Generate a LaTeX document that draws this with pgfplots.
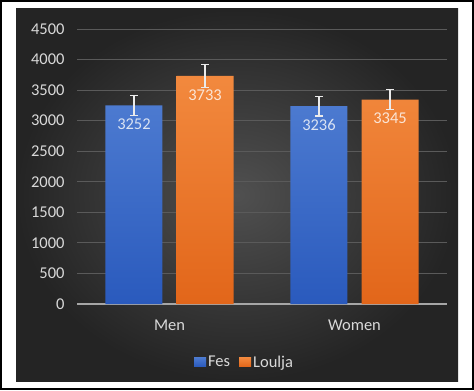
\documentclass[border=0pt]{standalone}
\usepackage{fontspec}
\setmainfont{Carlito}
\usepackage{pgfplots}
\pgfplotsset{compat=1.18}
\definecolor{bgIn}{HTML}{505050}
\definecolor{bgOut}{HTML}{242424}
\definecolor{blueT}{HTML}{4C7AD0}
\definecolor{blueB}{HTML}{2A5ABD}
\definecolor{orT}{HTML}{F2893E}
\definecolor{orB}{HTML}{E2661A}
\definecolor{tickc}{HTML}{D9D9D9}
\definecolor{gridc}{HTML}{5A5A5A}
\definecolor{lblB}{HTML}{DAE3F3}
\definecolor{lblO}{HTML}{FBE5D6}
\begin{document}
\begin{tikzpicture}[x=1bp,y=1bp]
\path[use as bounding box] (0,0) rectangle (474,390);
\fill[white] (0,0) rectangle (474,390);
\draw[black, line width=1.5bp] (1.2,1.2) rectangle (472.8,388.8);
\shade[inner color=bgIn, outer color=bgOut] (16,9) rectangle (458,381);
\begin{axis}[
  at={(77bp,86bp)}, anchor=south west,
  scale only axis, width=370bp, height=275bp,
  xmin=-0.5, xmax=1.5, ymin=0, ymax=4500,
  xtick={0,1}, xticklabels={Men,Women},
  ytick={0,500,...,4500},
  major tick length=0pt,
  axis x line=bottom, axis y line=left,
  x axis line style={color=gray!70, line width=1.2bp, -},
  y axis line style={draw=none},
  ymajorgrids, grid style={color=gridc, line width=0.8bp},
  /pgf/number format/assume math mode=true,
  /pgf/number format/1000 sep={},
  yticklabel style={font=\fontsize{16.5bp}{19bp}\selectfont, text=tickc, xshift=-9bp},
  xticklabel style={font=\fontsize{16.5bp}{19bp}\selectfont, text=tickc, anchor=center, yshift=-21bp},
  legend style={at={(axis description cs:0.453,-0.211)}, anchor=center, draw=none, fill=none,
    text=tickc, font=\fontsize{16.5bp}{19bp}\selectfont, legend columns=2,
    /tikz/every even column/.append style={column sep=7bp}},
  legend image code/.code={\path (0bp,-4.5bp) rectangle (12bp,4.5bp);\fill[#1] (0bp,-4.5bp) rectangle (9bp,4.5bp);},
  nodes near coords,
  every node near coord/.append style={anchor=center, yshift=-19bp, font=\fontsize{16.5bp}{19bp}\selectfont},
  error bars/error bar style={color=white!92!black, line width=1.2bp},
  error bars/error mark options={rotate=90, mark size=3.7bp, line width=1.2bp, color=white!92!black},
]
\addplot[ybar, bar width=0.308, bar shift=0, draw=none, top color=blueT, bottom color=blueB,
  every node near coord/.append style={text=lblB},
  error bars/.cd, y dir=both, y explicit]
  coordinates {(-0.192,3252) +- (0,165) (0.808,3236) +- (0,160)};
\addlegendentry{Fes}
\addplot[ybar, bar width=0.308, bar shift=0, draw=none, top color=orT, bottom color=orB,
  every node near coord/.append style={text=lblO},
  error bars/.cd, y dir=both, y explicit]
  coordinates {(0.192,3733) +- (0,188) (1.192,3345) +- (0,167)};
\addlegendentry{Loulja}
\end{axis}
\end{tikzpicture}
\end{document}
